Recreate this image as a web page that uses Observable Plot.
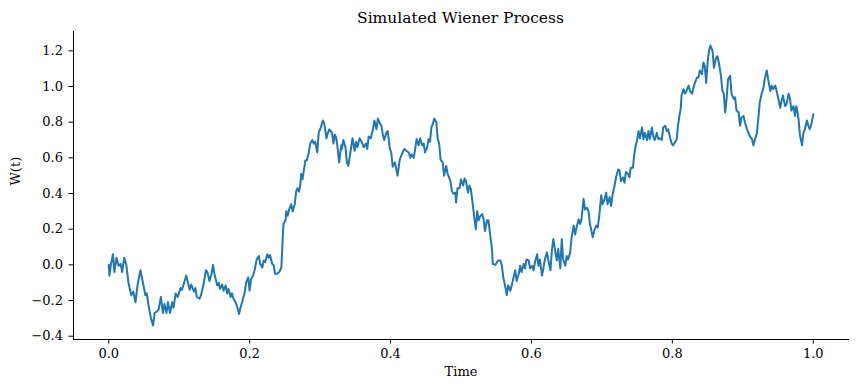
<!DOCTYPE html>
<html>
<head>
<meta charset="utf-8">
<script src="https://cdn.jsdelivr.net/npm/d3@7"></script>
<script src="https://cdn.jsdelivr.net/npm/@observablehq/plot@0.6"></script>
<style>
  html, body { margin: 0; padding: 0; background: #fff; }
  #wrap { width: 857px; height: 392px; font-family: "DejaVu Serif", serif; color: #000; }
  #title { height: 26px; padding-top: 5px; line-height: 26px; font-size: 15.5px; text-align: center;
           padding-left: 73px; padding-right: 9px; box-sizing: content-box; width: 775px; }
  svg { display: block; }
  svg text { font-family: "DejaVu Serif", serif !important; }
</style>
</head>
<body>
<div id="wrap">
  <div id="title">Simulated Wiener Process</div>
  <div id="chart"></div>
</div>
<script>
const titleText = "Simulated Wiener Process";
const xLabel = "Time";
const yLabel = "W(t)";
const xTicks = [0.0, 0.2, 0.4, 0.6, 0.8, 1.0];
const yTicks = [-0.4, -0.2, 0.0, 0.2, 0.4, 0.6, 0.8, 1.0, 1.2];

const time = [
  0, 0.001, 0.003, 0.006, 0.008, 0.011, 0.014, 0.017, 0.019, 0.022,
  0.025, 0.028, 0.032, 0.035, 0.038, 0.041, 0.045, 0.047, 0.050, 0.052,
  0.054, 0.057, 0.060, 0.063, 0.065, 0.069, 0.071, 0.074, 0.077, 0.079,
  0.082, 0.084, 0.087, 0.090, 0.092, 0.095, 0.098, 0.102, 0.104, 0.107,
  0.110, 0.113, 0.115, 0.117, 0.121, 0.123, 0.125, 0.129, 0.131, 0.135,
  0.138, 0.140, 0.143, 0.146, 0.148, 0.150, 0.154, 0.156, 0.158, 0.161,
  0.163, 0.166, 0.168, 0.170, 0.173, 0.175, 0.177, 0.180, 0.182, 0.185,
  0.187, 0.190, 0.193, 0.195, 0.198, 0.200, 0.202, 0.205, 0.207, 0.210,
  0.213, 0.215, 0.218, 0.220, 0.222, 0.225, 0.227, 0.229, 0.232, 0.234,
  0.236, 0.239, 0.242, 0.245, 0.247, 0.248, 0.251, 0.252, 0.254, 0.256,
  0.259, 0.261, 0.264, 0.266, 0.268, 0.270, 0.272, 0.273, 0.275, 0.277,
  0.279, 0.281, 0.284, 0.286, 0.289, 0.291, 0.293, 0.296, 0.298, 0.301,
  0.304, 0.306, 0.309, 0.311, 0.313, 0.317, 0.319, 0.321, 0.323, 0.325,
  0.327, 0.330, 0.331, 0.333, 0.336, 0.338, 0.340, 0.343, 0.346, 0.349,
  0.351, 0.353, 0.356, 0.359, 0.362, 0.365, 0.367, 0.369, 0.372, 0.375,
  0.377, 0.380, 0.382, 0.384, 0.387, 0.389, 0.391, 0.394, 0.396, 0.399,
  0.401, 0.403, 0.406, 0.408, 0.410, 0.413, 0.415, 0.418, 0.420, 0.422,
  0.426, 0.428, 0.430, 0.433, 0.435, 0.437, 0.440, 0.442, 0.445, 0.447,
  0.449, 0.452, 0.454, 0.456, 0.458, 0.460, 0.462, 0.465, 0.467, 0.469,
  0.471, 0.474, 0.476, 0.479, 0.481, 0.483, 0.485, 0.487, 0.489, 0.492,
  0.493, 0.495, 0.498, 0.500, 0.503, 0.505, 0.507, 0.510, 0.512, 0.514,
  0.517, 0.519, 0.521, 0.523, 0.525, 0.527, 0.530, 0.532, 0.534, 0.537,
  0.539, 0.541, 0.544, 0.545, 0.549, 0.551, 0.553, 0.556, 0.558, 0.560,
  0.563, 0.565, 0.567, 0.570, 0.572, 0.574, 0.577, 0.579, 0.582, 0.584,
  0.586, 0.589, 0.591, 0.593, 0.596, 0.598, 0.601, 0.603, 0.605, 0.608,
  0.610, 0.612, 0.615, 0.617, 0.619, 0.622, 0.624, 0.627, 0.629, 0.631,
  0.634, 0.636, 0.638, 0.641, 0.643, 0.645, 0.648, 0.650, 0.652, 0.655,
  0.657, 0.660, 0.662, 0.664, 0.667, 0.669, 0.671, 0.674, 0.676, 0.679,
  0.681, 0.683, 0.687, 0.689, 0.692, 0.694, 0.696, 0.699, 0.701, 0.704,
  0.706, 0.708, 0.711, 0.713, 0.715, 0.718, 0.720, 0.723, 0.725, 0.727,
  0.730, 0.732, 0.734, 0.737, 0.739, 0.741, 0.744, 0.746, 0.748, 0.750,
  0.752, 0.754, 0.757, 0.759, 0.761, 0.764, 0.766, 0.768, 0.771, 0.773,
  0.775, 0.778, 0.780, 0.783, 0.785, 0.787, 0.790, 0.792, 0.794, 0.797,
  0.799, 0.801, 0.804, 0.806, 0.808, 0.810, 0.812, 0.813, 0.816, 0.818,
  0.820, 0.823, 0.825, 0.828, 0.830, 0.832, 0.835, 0.837, 0.839, 0.842,
  0.844, 0.846, 0.848, 0.850, 0.852, 0.854, 0.857, 0.859, 0.862, 0.864,
  0.866, 0.869, 0.871, 0.873, 0.875, 0.877, 0.879, 0.882, 0.884, 0.887,
  0.889, 0.891, 0.894, 0.896, 0.898, 0.901, 0.903, 0.906, 0.908, 0.910,
  0.913, 0.915, 0.917, 0.920, 0.922, 0.924, 0.927, 0.929, 0.931, 0.934,
  0.936, 0.939, 0.941, 0.943, 0.946, 0.948, 0.950, 0.953, 0.955, 0.957,
  0.960, 0.962, 0.965, 0.967, 0.969, 0.972, 0.974, 0.976, 0.979, 0.981,
  0.984, 0.986, 0.988, 0.991, 0.993, 0.995, 0.998, 1.000
];

const wValues = [
  0.0, -0.06, 0.0, 0.06, -0.04, 0.04, -0.005, 0.005, -0.04, 0.04,
  0.0, -0.10, -0.17, -0.15, -0.21, -0.11, -0.03, -0.07, -0.13, -0.17,
  -0.16, -0.24, -0.30, -0.34, -0.27, -0.26, -0.25, -0.18, -0.27, -0.22,
  -0.27, -0.21, -0.27, -0.21, -0.24, -0.16, -0.18, -0.13, -0.14, -0.10,
  -0.06, -0.11, -0.14, -0.11, -0.15, -0.13, -0.18, -0.19, -0.17, -0.10,
  -0.03, -0.04, -0.09, -0.05, 0.0, -0.05, -0.115, -0.10, -0.135, -0.11,
  -0.145, -0.115, -0.16, -0.135, -0.18, -0.16, -0.19, -0.21, -0.23, -0.275,
  -0.24, -0.20, -0.155, -0.10, -0.07, -0.145, -0.08, -0.06, -0.03, 0.03,
  0.05, 0.005, -0.015, 0.025, 0.015, 0.06, 0.04, 0.055, 0.005, 0.0,
  -0.05, -0.05, -0.04, -0.015, 0.15, 0.23, 0.25, 0.30, 0.275, 0.31,
  0.34, 0.30, 0.34, 0.41, 0.43, 0.41, 0.45, 0.51, 0.48, 0.53,
  0.585, 0.585, 0.63, 0.68, 0.70, 0.68, 0.69, 0.63, 0.74, 0.77,
  0.81, 0.79, 0.71, 0.74, 0.76, 0.74, 0.68, 0.73, 0.71, 0.65,
  0.575, 0.67, 0.65, 0.70, 0.66, 0.575, 0.555, 0.63, 0.71, 0.64,
  0.69, 0.66, 0.71, 0.69, 0.66, 0.68, 0.65, 0.72, 0.71, 0.76,
  0.81, 0.76, 0.82, 0.80, 0.78, 0.73, 0.70, 0.74, 0.75, 0.65,
  0.63, 0.55, 0.575, 0.54, 0.50, 0.59, 0.61, 0.64, 0.65, 0.64,
  0.63, 0.60, 0.62, 0.60, 0.65, 0.705, 0.67, 0.71, 0.67, 0.68,
  0.63, 0.66, 0.705, 0.69, 0.77, 0.79, 0.82, 0.80, 0.705, 0.68,
  0.59, 0.575, 0.50, 0.555, 0.51, 0.49, 0.47, 0.415, 0.40, 0.405,
  0.35, 0.43, 0.43, 0.48, 0.445, 0.485, 0.47, 0.405, 0.445, 0.425,
  0.33, 0.26, 0.20, 0.30, 0.25, 0.27, 0.285, 0.26, 0.19, 0.25,
  0.25, 0.18, 0.09, 0.005, 0.0, 0.015, 0.025, 0.025, -0.005, -0.07,
  -0.125, -0.17, -0.115, -0.145, -0.115, -0.08, -0.03, -0.09, -0.05, -0.005,
  -0.04, 0.005, -0.02, 0.03, 0.025, -0.02, -0.005, -0.03, 0.015, 0.06,
  -0.005, 0.03, -0.06, -0.02, 0.03, 0.07, 0.025, -0.03, 0.08, 0.145,
  0.07, 0.025, 0.09, -0.02, 0.145, 0.03, -0.005, 0.05, 0.03, 0.07,
  0.155, 0.22, 0.17, 0.21, 0.255, 0.23, 0.255, 0.37, 0.31, 0.32,
  0.30, 0.23, 0.155, 0.19, 0.22, 0.21, 0.265, 0.39, 0.34, 0.37,
  0.405, 0.34, 0.38, 0.33, 0.39, 0.445, 0.49, 0.535, 0.53, 0.47,
  0.49, 0.46, 0.52, 0.51, 0.49, 0.545, 0.545, 0.62, 0.67, 0.70,
  0.75, 0.71, 0.77, 0.705, 0.74, 0.70, 0.75, 0.705, 0.77, 0.72,
  0.70, 0.74, 0.705, 0.71, 0.70, 0.77, 0.78, 0.75, 0.76, 0.71,
  0.68, 0.67, 0.69, 0.70, 0.78, 0.835, 0.88, 0.95, 0.985, 0.96,
  0.975, 1.005, 0.975, 0.96, 0.995, 1.02, 1.05, 1.05, 1.09, 1.07,
  1.135, 1.115, 1.02, 1.135, 1.20, 1.23, 1.20, 1.105, 1.16, 1.17,
  1.135, 1.06, 0.975, 0.96, 0.855, 0.93, 1.04, 1.06, 0.96, 0.93,
  0.94, 0.865, 0.855, 0.78, 0.825, 0.835, 0.80, 0.76, 0.74, 0.72,
  0.705, 0.67, 0.70, 0.74, 0.82, 0.91, 0.965, 0.985, 1.04, 1.09,
  1.04, 0.975, 1.005, 0.985, 1.005, 0.975, 0.94, 0.88, 0.92, 0.95,
  0.89, 0.90, 0.96, 0.93, 0.865, 0.89, 0.835, 0.89, 0.82, 0.73,
  0.67, 0.74, 0.76, 0.81, 0.78, 0.76, 0.80, 0.845
];

const data = time.map((t, i) => ({t, w: wValues[i]}));
document.getElementById("title").textContent = titleText;

// matplotlib-style 5% margins around the data extent
const xExt = d3.extent(time), yExt = d3.extent(wValues);
const xPad = (xExt[1] - xExt[0]) * 0.05, yPad = (yExt[1] - yExt[0]) * 0.05;
const fmt = d3.format(".1f");
const font = "DejaVu Serif";

const chart = Plot.plot({
  width: 857,
  height: 361,
  marginLeft: 73,
  marginRight: 9,
  marginTop: 0,
  marginBottom: 53,
  style: {fontFamily: font, fontSize: "13px", color: "#000", background: "#fff", overflow: "visible"},
  x: {domain: [xExt[0] - xPad, xExt[1] + xPad]},
  y: {domain: [yExt[0] - yPad, yExt[1] + yPad]},
  marks: [
    Plot.axisX({ticks: xTicks, tickFormat: fmt, tickSize: 4.5, tickPadding: 5, label: null, fontSize: 13, fontFamily: font, stroke: "#000"}),
    Plot.axisY({ticks: yTicks, tickFormat: fmt, tickSize: 4.5, tickPadding: 6, label: null, fontSize: 13, fontFamily: font, stroke: "#000"}),
    Plot.frame({anchor: "left", stroke: "#000", strokeWidth: 1}),
    Plot.frame({anchor: "bottom", stroke: "#000", strokeWidth: 1}),
    Plot.lineY(data, {x: "t", y: "w", stroke: "#1f77b4", strokeWidth: 2, strokeLinejoin: "round"}),
    Plot.text([xLabel], {text: d => d, frameAnchor: "bottom", dy: 36, fontSize: 13, fontFamily: font, fill: "#000"}),
    Plot.text([yLabel], {text: d => d, frameAnchor: "left", dx: -58, rotate: -90, fontSize: 13, fontFamily: font, fill: "#000"})
  ]
});
document.getElementById("chart").appendChild(chart);
</script>
</body>
</html>
